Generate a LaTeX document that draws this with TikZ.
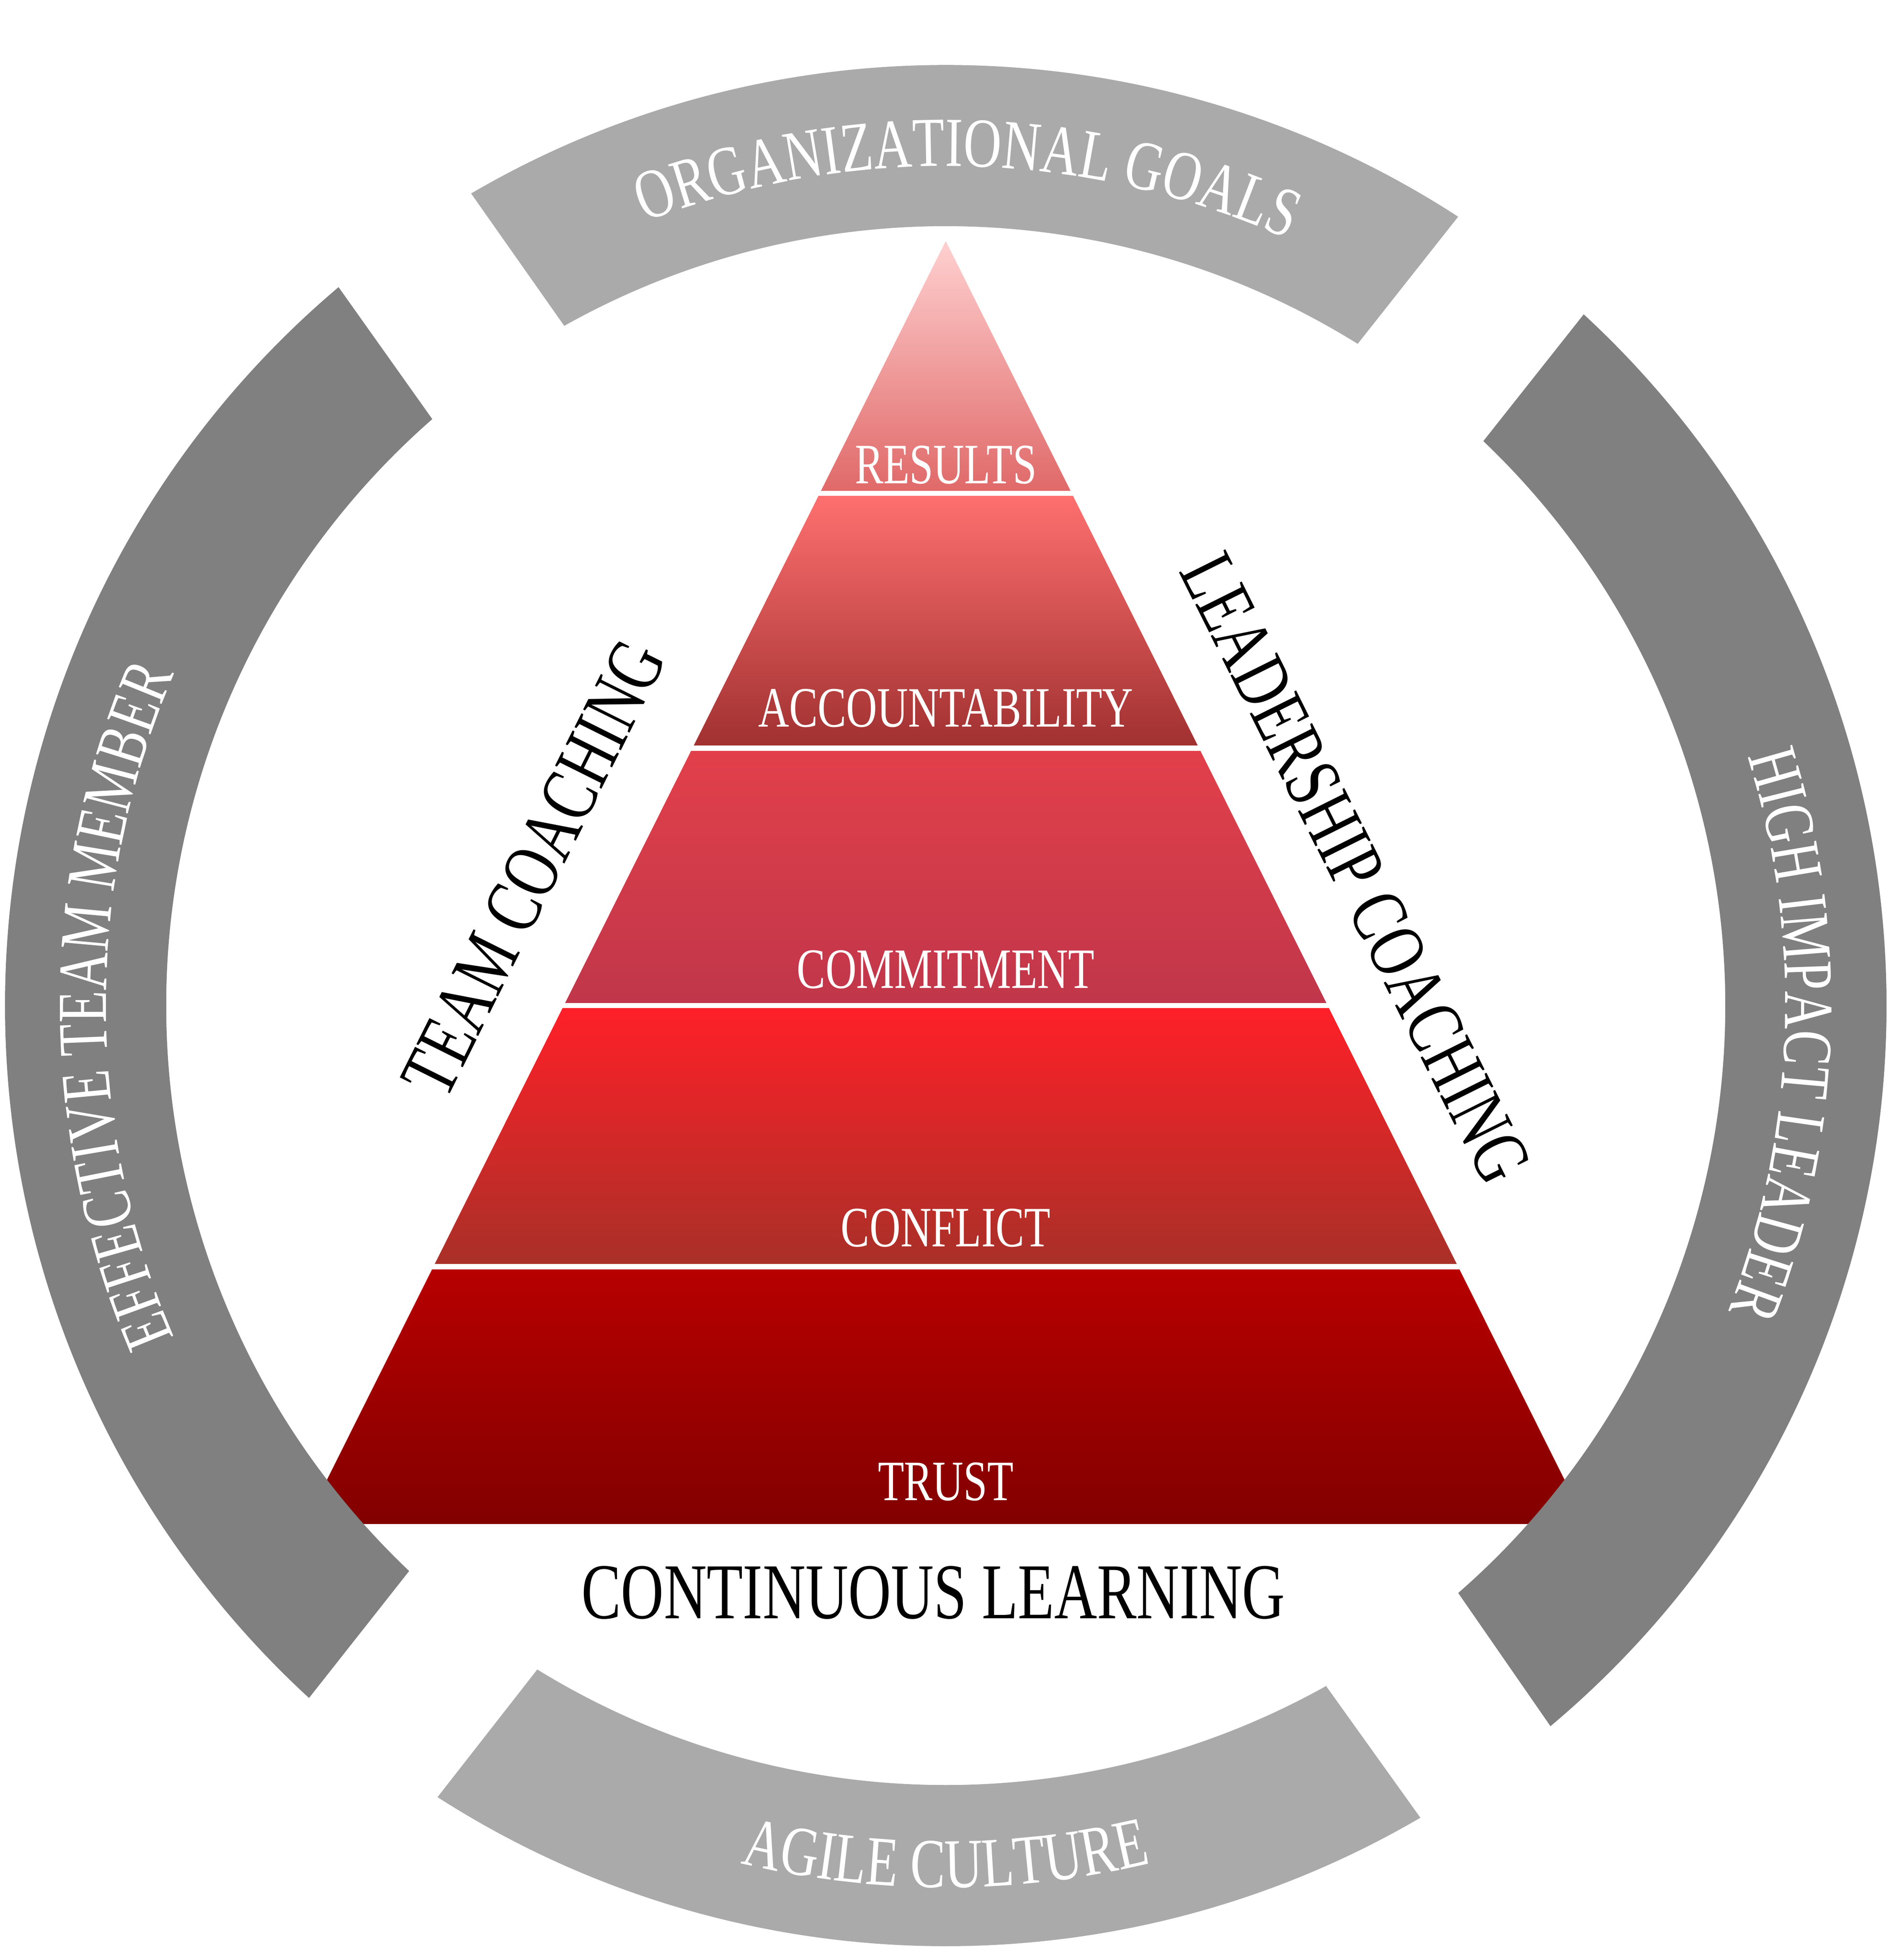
\documentclass[tikz,border=0pt]{standalone}
\usepackage{fontspec}
\setmainfont{Liberation Serif}
\newfontfamily\cond[FakeStretch=0.75]{Liberation Serif}
\usetikzlibrary{decorations.text}
\definecolor{ringdark}{HTML}{808080}
\definecolor{ringlight}{HTML}{AAAAAA}
\definecolor{rA}{HTML}{FFD0D0}\definecolor{rB}{HTML}{E06868}
\definecolor{aA}{HTML}{FF7070}\definecolor{aB}{HTML}{A03030}
\definecolor{cA}{HTML}{E2404A}\definecolor{cB}{HTML}{C0364A}
\definecolor{fA}{HTML}{FF2028}\definecolor{fB}{HTML}{A83028}
\definecolor{tA}{HTML}{B80000}\definecolor{tB}{HTML}{820000}
\tikzset{
  ringtext/.style={decorate,decoration={text along path,text align=center,text color=white,text={|\cond\fontsize{16}{16}\selectfont|#1}}},
  lvl/.style={text=white,font=\cond\fontsize{13}{13}\selectfont},
  side/.style={text=black,font=\cond\fontsize{18}{18}\selectfont},
}
\newcommand{\px}[1]{757-0.4995*(#1-193)}
\newcommand{\qx}[1]{757+0.4995*(#1-193)}
\begin{document}
\begin{tikzpicture}[x=0.01cm,y=0.01cm]
\useasboundingbox (0,0) rectangle (1512,1569);
\def\band#1#2#3#4{\shade[top color=#3,bottom color=#4] ({\px{#1}},{1569-#1}) -- ({\qx{#1}},{1569-#1}) -- ({\qx{#2}},{1569-#2}) -- ({\px{#2}},{1569-#2}) -- cycle;}
\band{193}{395}{rA}{rB}
\band{395}{599}{aA}{aB}
\band{599}{805}{cA}{cB}
\band{805}{1014}{fA}{fB}
\band{1014}{1220}{tA}{tB}
\foreach \y in {395,599,805,1014}{
  \draw[white,line width=1.2pt] ({\px{\y}-5},{1569-\y}) -- ({\qx{\y}+5},{1569-\y});}
\node[lvl] (res) at (757,1569-372) {RESULTS};
\node[lvl] (acc) at (757,1569-567) {ACCOUNTABILITY};
\node[lvl] (com) at (757,1569-776) {COMMITMENT};
\node[lvl] (con) at (757,1569-983) {CONFLICT};
\node[lvl] (tru) at (757,1569-1186) {TRUST};
\node[side,rotate=63.5] (team) at (427,1569-695) {TEAM COACHING};
\node[side,rotate=-63.5] (lead) at (1085,1569-695) {LEADERSHIP COACHING};
\node[side] (cont) at (747,1569-1275) {CONTINUOUS LEARNING};
\begin{scope}[shift={(757,764)}]
\def\seg#1#2#3#4#5{\fill[#5] (#1:753) arc[start angle=#1,end angle=#2,radius=753] -- (#4:624) arc[start angle=#4,end angle=#3,radius=624] -- cycle;}
\seg{57}{120.3}{58.1}{119.3}{ringlight}
\seg{-50}{47.3}{-48.9}{46.4}{ringdark}
\seg{-122.7}{-59.7}{-121.6}{-60.8}{ringlight}
\seg{130.2}{227.4}{131.2}{226.5}{ringdark}
\path[ringtext={ORGANIZATIONAL GOALS}] (118:672) arc[start angle=118,end angle=59,radius=672];
\path[ringtext={AGILE CULTURE}] (-121:706) arc[start angle=-121,end angle=-59,radius=706];
\path[ringtext={EFFECTIVE TEAM MEMBER}] (225:672) arc[start angle=225,end angle=135,radius=672];
\path[ringtext={HIGH IMPACT LEADER}] (43:672) arc[start angle=43,end angle=-47,radius=672];
\end{scope}
\end{tikzpicture}
\end{document}
